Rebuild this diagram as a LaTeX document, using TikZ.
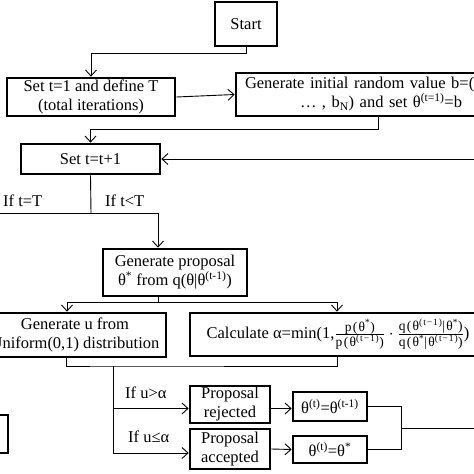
\documentclass[tikz,border=0pt]{standalone}
\usepackage{fontspec}
\setmainfont{Liberation Serif}
\newfontfamily\fracfont[LetterSpace=10]{Liberation Serif}
\usetikzlibrary{arrows.meta}
\newcommand{\fracpart}[1]{\mbox{\fracfont\fontsize{13.5}{14}\selectfont #1}}

\begin{document}
\begin{tikzpicture}[x=1pt,y=-1pt,
        font=\fontsize{16.5}{19}\selectfont,
        box/.style={draw, line width=2.7pt, inner sep=0pt, align=center},
        link/.style={line width=0.9pt},
        arr/.style={link, -{Straight Barb[length=6pt,width=11pt]}},
        lbl/.style={anchor=base west, inner sep=0pt}]
    \useasboundingbox (0,0) rectangle (474,474);
    \clip (0,0) rectangle (474,474);
    % boxes
    \node[box, minimum width=62pt, minimum height=44pt] (start) at (246,24) {Start};
    \node[box, minimum width=168pt, minimum height=38pt] (init) at (91,97)
        {Set t=1 and define T\\(total iterations)};
    \node[box, minimum width=254pt, minimum height=43pt, text width=236pt, align=left] (seed) at (363,94.5)
        {Generate initial random value b=(\\\hspace*{55pt}… , b\textsubscript{N}) and set θ\textsuperscript{(t=1)}=b};
    \node[box, minimum width=139pt, minimum height=30pt] (incr) at (90.5,159) {Set t=t+1};
    \node[box, minimum width=144pt, minimum height=47pt] (prop) at (175,272.5)
        {Generate proposal\\θ\textsuperscript{*} from q(θ|θ\textsuperscript{(t-1)})};
    \node[box, minimum width=182pt, minimum height=44pt] (unif) at (75,335)
        {Generate u from\\Uniform(0,1) distribution};
    \node[box, minimum width=296pt, minimum height=43pt] (calc) at (338,334.5)
        {Calculate α=min(1,$\frac{\fracpart{p(θ\textsuperscript{*})}}{\fracpart{p(θ\textsuperscript{(t−1)})}}\cdot
        \frac{\fracpart{q(θ\textsuperscript{(t−1)}|θ\textsuperscript{*})}}{\fracpart{q(θ\textsuperscript{*}|θ\textsuperscript{(t−1)})}}$)};
    \node[box, minimum width=80pt, minimum height=37pt] (rej) at (230,404.5) {Proposal\\rejected};
    \node[box, minimum width=80pt, minimum height=40pt] (acc) at (230,449) {Proposal\\accepted};
    \node[box, minimum width=74pt, minimum height=29pt] (keep) at (330,406.5)
        {θ\textsuperscript{(t)}=θ\textsuperscript{(t-1)}};
    \node[box, minimum width=74pt, minimum height=27pt] (take) at (330,449.5)
        {θ\textsuperscript{(t)}=θ\textsuperscript{*}};
    \node[box, minimum width=96pt, minimum height=38pt] (finish) at (-40,434) {};
    % branch points
    \coordinate (split) at (91,213);
    \coordinate (fork) at (158,302);
    \coordinate (merge) at (113,366);
    \coordinate (join) at (401,428);
    % labels
    \node[lbl] (tend) at (3,206) {If t=T};
    \node[lbl] (tgo) at (105,206) {If t<T};
    \node[lbl] (ubig) at (125,398) {If u>α};
    \node[lbl] (usmall) at (128,442) {If u≤α};
    % connectors
    \draw[arr] (start.south) -- ++(0,6) -| (init.north);
    \draw[arr] (init.east) -- (seed.west);
    \draw[arr] ([xshift=15pt]seed.south) -- ++(0,12) -| (incr.north);
    \draw[link] (incr.south) -- (split);
    \draw[arr] (split) -- ++(-200,0) |- (finish.west);
    \draw[arr] (split) -| ([xshift=-17pt]prop.north);
    \draw[link] ([xshift=-17pt]prop.south) -- (fork);
    \draw[arr] (fork) -| ([xshift=-8pt]unif.north);
    \draw[arr] (fork) -| ([xshift=-1pt]calc.north);
    \draw[link] ([xshift=-9pt]unif.south) |- (merge) -| ([xshift=-1pt]calc.south);
    \draw[arr] (merge) |- ([yshift=-4pt]rej.west);
    \draw[arr] (merge) |- ([yshift=-4pt]acc.west);
    \draw[arr] ([yshift=-4pt]rej.east) -- ([yshift=-4pt]rej.east -| keep.west);
    \draw[arr] (acc.east) -- (take.west);
    \draw[link] (keep.east) -| (join);
    \draw[link] (take.east) -| (join);
    \draw[arr] (join) -- ++(120,0) |- (incr.east);
\end{tikzpicture}
\end{document}
